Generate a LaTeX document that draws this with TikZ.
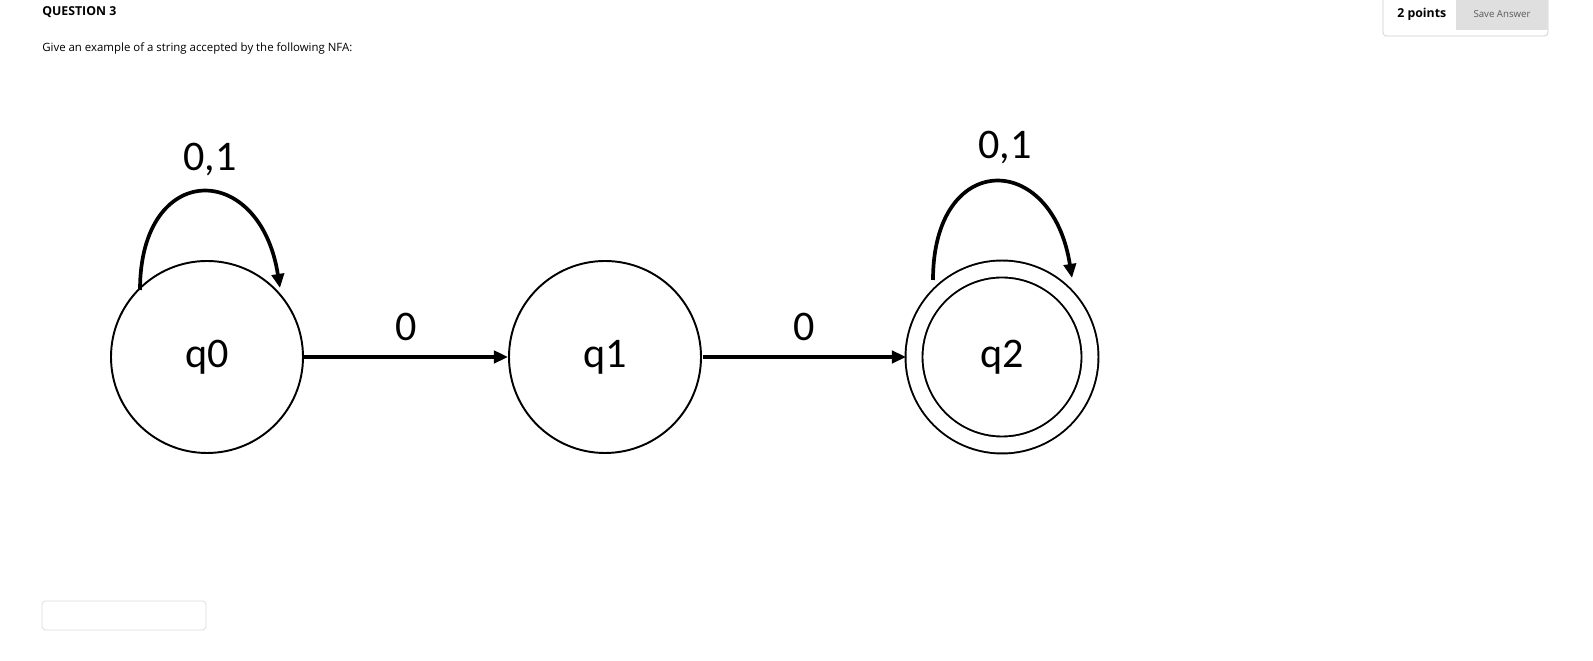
\documentclass[tikz,border=0pt]{standalone}
\usepackage{fontspec}
\setmainfont{Open Sans}
\newfontfamily\lab{Carlito}
\usetikzlibrary{arrows.meta}
\begin{document}
\begin{tikzpicture}[x=0.02cm,y=-0.02cm,
 state/.style={circle,draw,line width=1.1pt,minimum size=192*0.02cm,inner sep=0pt,font=\lab\fontsize{24}{26}\selectfont},
 lbl/.style={font=\lab\fontsize{24}{26}\selectfont,inner sep=0pt},
 edge/.style={line width=2.1pt,-{Triangle[length=8pt,width=7pt]}},
 ui/.style={font=\fontsize{6.5}{8}\selectfont,inner sep=0pt,anchor=west}]
\useasboundingbox (0,0) rectangle (1593,661);
\node[ui,font=\bfseries\fontsize{7}{8}\selectfont] (title) at (42,12) {QUESTION 3};
\draw[gray!40,rounded corners=2pt] (1383,-3) rectangle (1548,36);
\fill[gray!25] (1456,0) rectangle (1548,30);
\node[ui,font=\bfseries\fontsize{7}{8}\selectfont] (pts) at (1397,14) {2 points};
\node[ui,font=\fontsize{5.5}{7}\selectfont,text=gray!70!black,anchor=center] (save) at (1502,14) {Save Answer};
\node[ui] (q) at (42,49) {Give an example of a string accepted by the following NFA:};
\draw[gray!30,rounded corners=2pt] (42,601) rectangle (206,630);
\node[state] (q0) at (207,357) {q0};
\node[state] (q1) at (605,357) {q1};
\node[state,double,double distance=15*0.02cm,minimum size=176*0.02cm] (q2) at (1002,357) {q2};
\draw[edge] (q0) -- node[lbl,above=14*0.02cm] (l1) {0} (q1);
\draw[edge] ([xshift=0.6pt]q1.east) -- node[lbl,above=14*0.02cm] (l2) {0} ([xshift=-4pt]q2.west);
\coordinate (a0) at (140,290); \coordinate (b0) at (280,288);
\draw[edge] (a0) .. controls (140,160) and (260,160) .. (b0);
\node[lbl] (ll0) at (210,160) {0,1};
\coordinate (a2) at (933,280); \coordinate (b2) at (1072,278);
\draw[edge] (a2) .. controls (933,150) and (1052,150) .. (b2);
\node[lbl] (ll2) at (1005,148) {0,1};
\end{tikzpicture}
\end{document}
